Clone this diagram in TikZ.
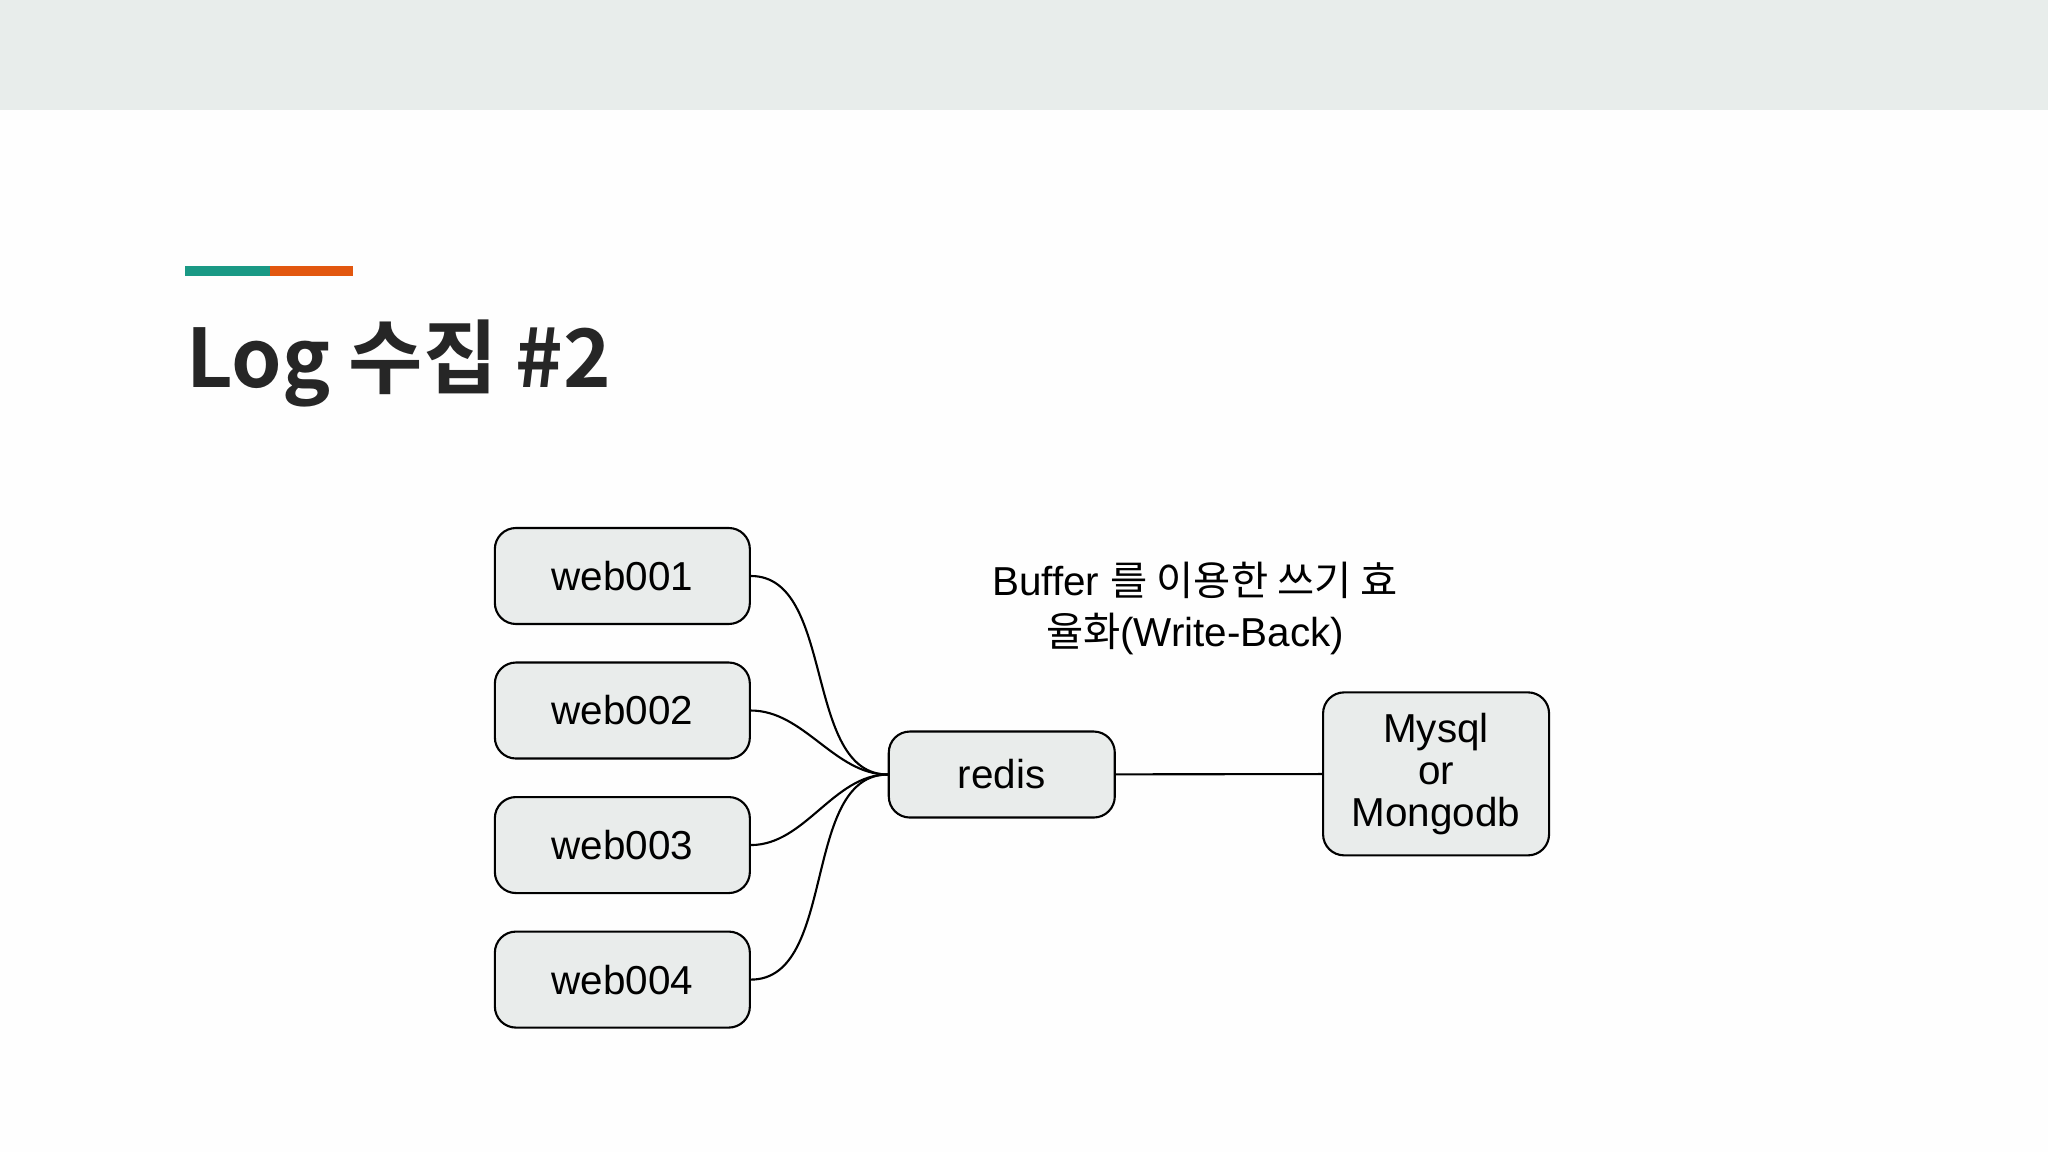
\documentclass[tikz,border=0pt]{standalone}
\usepackage{fontspec}
\setmainfont{Liberation Sans}
\newfontfamily\kr{Noto Sans CJK KR}
\newfontfamily\krbold{Noto Sans CJK KR Bold}
\usetikzlibrary{positioning}
\definecolor{bandgray}{HTML}{E8EDEB}
\definecolor{boxgray}{HTML}{E9ECEB}
\definecolor{tealbar}{HTML}{1A9985}
\definecolor{orangebar}{HTML}{E2570F}
\tikzset{
  server/.style={draw, rounded corners=6pt, fill=boxgray, minimum width=2.55cm, minimum height=0.96cm, font=\fontsize{11.5}{13}\selectfont, line width=0.6pt},
  link/.style={line width=0.6pt}
}
\begin{document}
\begin{tikzpicture}[x=0.013061cm, y=-0.013061cm]
\useasboundingbox (0,0) rectangle (1568,882);
\fill[white!97!bandgray] (0,0) rectangle (1568,882);
\fill[bandgray] (0,0) rectangle (1568,84);
\fill[tealbar] (142,204) rectangle (207,211);
\fill[orangebar] (207,204) rectangle (270,211);
\node[anchor=base west, inner sep=0pt, font=\krbold\fontsize{23}{26}\selectfont, text=black!85] (title) at (142,297) {Log 수집 \#2};

% servers
\node[server] (web1) at (476.5,441) {web001};
\node[server] (web2) at (476.5,544) {web002};
\node[server] (web3) at (476.5,647) {web003};
\node[server] (web4) at (476.5,750) {web004};

\node[server, minimum width=2.26cm, minimum height=0.86cm] (redis) at (767,593) {redis};
\node[server, minimum width=2.26cm, minimum height=1.63cm, align=center] (db) at (1099.5,592.5) {Mysql\\[-1pt]or\\[-1pt]Mongodb};

\node[align=center, font=\fontsize{11.5}{14.5}\selectfont] (note) at (915,466) {Buffer {\kr 를 이용한 쓰기 효}\\{\kr 율화}(Write-Back)};

% links
\foreach \w in {web1,web2,web3,web4}
  \draw[link] (\w.east) to[out=0, in=180, looseness=0.9] (redis.west);
\draw[link] (redis) -- (db);
\end{tikzpicture}
\end{document}
